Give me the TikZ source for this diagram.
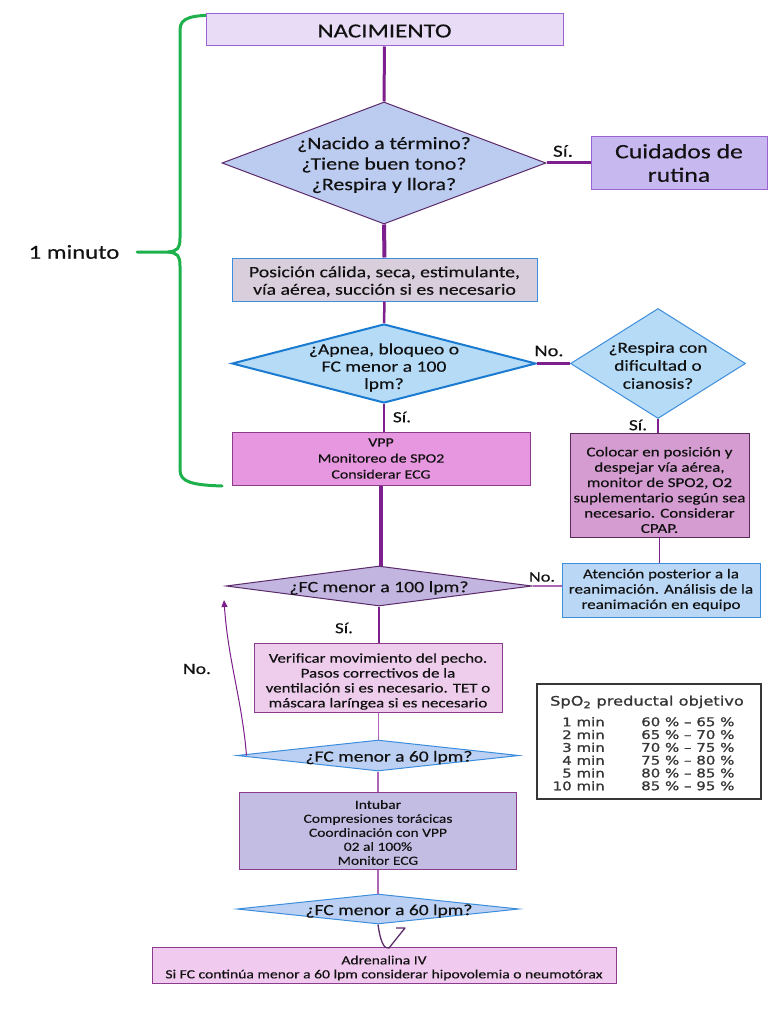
\documentclass[tikz,border=0pt]{standalone}
\usepackage{fontspec}
\setmainfont{Carlito}[FakeStretch=1.25, FakeBold=0.3]
\newfontfamily\tablafont{DejaVu Sans}[FakeStretch=1.25, FakeBold=1.2]
\usetikzlibrary{shapes.geometric,arrows.meta}

\definecolor{texto}{HTML}{111111}
\definecolor{morado}{HTML}{7D1F8C}
\definecolor{moradoclaro}{HTML}{B066B6}
\definecolor{verde}{HTML}{1DB14C}
\definecolor{nacfondo}{HTML}{E9DCF7}
\definecolor{nacborde}{HTML}{9A62D3}
\definecolor{terfondo}{HTML}{BCCCF1}
\definecolor{terborde}{HTML}{5A2A6A}
\definecolor{cuifondo}{HTML}{C7B8F0}
\definecolor{posfondo}{HTML}{D9CEDC}
\definecolor{azulborde}{HTML}{3C8DDD}
\definecolor{celeste}{HTML}{B5DBF7}
\definecolor{apnborde}{HTML}{1B7BD0}
\definecolor{colfondo}{HTML}{D49CD1}
\definecolor{colborde}{HTML}{5A295A}
\definecolor{atefondo}{HTML}{BAD7F6}
\definecolor{vppfondo}{HTML}{E797DF}
\definecolor{rosaborde}{HTML}{8B3B8B}
\definecolor{fcfondo}{HTML}{C2B6E1}
\definecolor{verfondo}{HTML}{EDCCEC}
\definecolor{sesfondo}{HTML}{BCD0F3}
\definecolor{intfondo}{HTML}{C3BDE3}
\definecolor{adrfondo}{HTML}{F1CAEF}
\definecolor{tablagris}{HTML}{363636}

\newcommand{\letra}[2]{\fontsize{#1}{#2}\selectfont}

\tikzset{
  caja/.style={draw, rectangle, inner sep=0pt, line width=1pt},
  decision/.style={draw, diamond, inner sep=0pt, line width=1pt},
  dtexto/.style={align=center, text=texto, inner sep=0pt, yshift=-2pt},
  etiqueta/.style={text=texto, inner sep=0pt},
  linea/.style={draw=morado, line width=3pt},
  lineafina/.style={draw=morado, line width=1.5pt},
  lineaclara/.style={draw=moradoclaro, line width=1.5pt},
  tablatexto/.style={text=tablagris, inner sep=0pt, font=\tablafont\letra{12}{13}},
}

\begin{document}
\begin{tikzpicture}[x=1pt,y=-1pt]
    \useasboundingbox (0,0) rectangle (768,1024);
    % llave verde del primer minuto
    \draw[verde, line width=3pt, line cap=round]
         (222,15) .. controls (192,15) and (180,17) .. (180,30) -- (180,238)
         .. controls (180,248) and (178,251) .. (168,252) -- (137,252);
    \draw[verde, line width=3pt, line cap=round]
         (168,252) .. controls (178,253) and (180,256) .. (180,266) -- (180,470)
         .. controls (180,482) and (192,485) .. (222,486);
    \node[etiqueta, font=\letra{19.8}{23}] (minuto) at (74,252) {1 minuto};

    % columna principal
    \node[caja, fill=nacfondo, draw=nacborde, minimum width=357pt, minimum height=32pt,
          label={[dtexto, yshift=1pt, font=\letra{20}{24}]center:NACIMIENTO}] (nacimiento) at (384.5,30) {};
    \node[decision, fill=terfondo, draw=terborde, minimum width=324pt, minimum height=122pt,
          label={[dtexto, font=\letra{17.5}{20.5}]center:{¿Nacido a término?\\¿Tiene buen tono?\\¿Respira y llora?}}]
          (termino) at (384,163) {};
    \node[caja, fill=cuifondo, draw=nacborde, minimum width=176pt, minimum height=53pt,
          label={[dtexto, yshift=2pt, font=\letra{20.5}{23.5}]center:{Cuidados de\\rutina}}] (cuidados) at (679,163) {};
    \node[caja, fill=posfondo, draw=azulborde, minimum width=305pt, minimum height=43pt,
          label={[dtexto, font=\letra{15.8}{17.5}]center:{Posición cálida, seca, estimulante,\\vía aérea, succión si es necesario}}]
          (posicion) at (384.5,279.5) {};
    \node[decision, fill=celeste, draw=apnborde, line width=2pt, minimum width=304pt, minimum height=79pt,
          label={[dtexto, yshift=-2pt, font=\letra{15.7}{17.3}]center:{¿Apnea, bloqueo o\\FC menor a 100\\lpm?}}]
          (apnea) at (384,363.5) {};
    \node[decision, fill=celeste, draw=azulborde, minimum width=175pt, minimum height=110pt,
          label={[dtexto, font=\letra{15.4}{18}]center:{¿Respira con\\dificultad o\\cianosis?}}]
          (respira) at (658,363.5) {};
    \node[caja, fill=vppfondo, draw=rosaborde, minimum width=298pt, minimum height=53pt,
          label={[dtexto, yshift=2pt, font=\letra{12.7}{16}]center:{VPP\\Monitoreo de SPO2\\Considerar ECG}}]
          (vpp) at (381,458.5) {};
    \node[caja, fill=colfondo, draw=colborde, minimum width=179pt, minimum height=104pt,
          label={[dtexto, yshift=-3pt, font=\letra{13.6}{15.3}]center:{Colocar en posición y\\despejar vía aérea,\\monitor de SPO2, O2\\suplementario según sea\\necesario. Considerar\\CPAP.}}]
          (colocar) at (659.5,485) {};
    \node[caja, fill=atefondo, draw=azulborde, minimum width=198pt, minimum height=54pt,
          label={[dtexto, yshift=2pt, font=\letra{13.6}{15.3}]center:{Atención posterior a la\\reanimación. Análisis de la\\reanimación en equipo}}]
          (atencion) at (661,590) {};
    \node[decision, fill=fcfondo, draw=terborde, minimum width=306pt, minimum height=40pt,
          label={[dtexto, font=\letra{15.8}{18}]center:{¿FC menor a 100 lpm?}}]
          (fccien) at (379,586) {};
    \node[caja, fill=verfondo, draw=rosaborde, minimum width=248pt, minimum height=69pt,
          label={[dtexto, yshift=-2pt, font=\letra{13.5}{14.9}]center:{Verificar movimiento del pecho.\\Pasos correctivos de la\\ventilación si es necesario. TET o\\máscara laríngea si es necesario}}]
          (verificar) at (378,677.5) {};
    \node[decision, fill=sesfondo, draw=azulborde, minimum width=282pt, minimum height=31pt,
          label={[dtexto, font=\letra{15.6}{18}, xshift=11pt]center:{¿FC menor a 60 lpm?}}]
          (sesentaA) at (378,755.5) {};
    \node[caja, fill=intfondo, draw=rosaborde, minimum width=277pt, minimum height=77pt,
          label={[dtexto, font=\letra{12.4}{14}]center:{Intubar\\Compresiones torácicas\\Coordinación con VPP\\02 al 100\%\\Monitor ECG}}]
          (intubar) at (378,830.5) {};
    \node[decision, fill=sesfondo, draw=azulborde, minimum width=282pt, minimum height=30pt,
          label={[dtexto, font=\letra{15.6}{18}, xshift=11pt]center:{¿FC menor a 60 lpm?}}]
          (sesentaB) at (378,909) {};
    \node[caja, fill=adrfondo, draw=rosaborde, minimum width=464pt, minimum height=36pt,
          label={[dtexto, yshift=-1pt, font=\letra{12.5}{14}]center:{Adrenalina IV\\Si FC continúa menor a 60 lpm considerar hipovolemia o neumotórax}}]
          (adrenalina) at (384,965) {};

    % respuestas
    \node[etiqueta, font=\letra{17}{20}] (si1) at (563,151) {Sí.};
    \node[etiqueta, font=\letra{16.3}{19}] (no1) at (549,351) {No.};
    \node[etiqueta, font=\letra{15.5}{18}] (si2) at (402,417) {Sí.};
    \node[etiqueta, font=\letra{15.5}{18}] (si3) at (638,425) {Sí.};
    \node[etiqueta, font=\letra{14.6}{17}] (no2) at (542,577) {No.};
    \node[etiqueta, font=\letra{15.3}{18}] (si4) at (344,628) {Sí.};
    \node[etiqueta, font=\letra{15.7}{18}] (no3) at (197,669) {No.};

    % conectores
    \draw[linea] (nacimiento.south) -- (termino.north);
    \draw[linea] (termino.east) -- (cuidados.west);
    \draw[linea, line width=4pt] (termino.south) -- (posicion.north);
    \draw[linea, line width=2.5pt] (posicion.south) -- (apnea.north);
    \draw[linea] (apnea.east) -- (respira.west);
    \draw[linea, line width=2.5pt] (apnea.south) -- (apnea.south |- vpp.north);
    \draw[lineafina] (respira.south) -- (respira.south |- colocar.north);
    \draw[lineafina] (colocar.south) -- (colocar.south |- atencion.north);
    \draw[linea, line width=3.5pt] (vpp.south) -- (vpp.south |- fccien.north);
    \draw[lineaclara] (fccien.east) -- (fccien.east -| atencion.west);
    \draw[lineafina] (fccien.south) -- (fccien.south |- verificar.north);
    \draw[lineaclara, line width=1pt] (verificar.south) -- (sesentaA.north);
    \draw[lineaclara, line width=2pt] (sesentaA.south) -- (intubar.north);
    \draw[lineaclara, line width=2pt] (intubar.south) -- (sesentaB.north);
    % vuelta al control de FC
    \coordinate (puntano) at (224,600);
    \draw[morado, line width=1pt, -{Triangle[length=7pt,width=6pt]}]
         ([xshift=10pt]sesentaA.west) .. controls (242,700) and (228,660) .. (puntano);
    \draw[terborde, line width=1.3pt, line join=round]
         (sesentaB.south) .. controls (380,940) and (384,950) .. (389,948) -- (405,928) -- (396,928);

    % tabla de saturacion
    \node[draw=tablagris, line width=2.2pt, minimum width=224pt, minimum height=115pt,
          inner sep=0pt] (tabla) at (649,741.5) {};
    \node[tablatexto, font=\tablafont\letra{13}{15}] (cabecera) at (647,702)
         {SpO\textsubscript{2} preductal objetivo};
    \foreach \tiempo/\rango [count=\i] in {1 min/60 \% – 65 \%, 2 min/65 \% – 70 \%,
            3 min/70 \% – 75 \%, 4 min/75 \% – 80 \%, 5 min/80 \% – 85 \%, 10 min/85 \% – 95 \%}
    {
        \node[tablatexto, anchor=east] (t\i) at (605,{709+12.8*\i}) {\tiempo};
        \node[tablatexto, anchor=west] (r\i) at (641,{709+12.8*\i}) {\rango};
    }
\end{tikzpicture}
\end{document}
